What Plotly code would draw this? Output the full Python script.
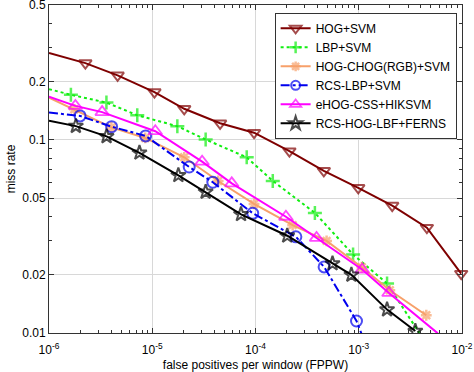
import math
import plotly.graph_objects as go

# ---------------- data ----------------
hog_svm_x = [1.0e-6, 2.25e-6, 4.62e-6, 1.05e-5, 2.04e-5, 4.54e-5, 9.68e-5, 2.13e-4, 4.59e-4, 9.89e-4, 2.11e-3, 4.57e-3, 9.82e-3]
hog_svm_y = [0.282, 0.250, 0.216, 0.177, 0.145, 0.122, 0.109, 0.0874, 0.0692, 0.0565, 0.0457, 0.0351, 0.0203]

lbp_svm_x = [1.0e-6, 1.63e-6, 3.60e-6, 7.16e-6, 1.75e-5, 3.29e-5, 8.22e-5, 1.47e-4, 3.76e-4, 8.81e-4, 1.88e-3, 3.88e-3]
lbp_svm_y = [0.1833, 0.1713, 0.1561, 0.1343, 0.1178, 0.1005, 0.0813, 0.0613, 0.0419, 0.0255, 0.01804, 0.00996]

hog_chog_x = [1.0e-6, 1.76e-6, 4.02e-6, 8.55e-6, 2.04e-5, 4.35e-5, 9.68e-5, 2.29e-4, 4.88e-4, 1.07e-3, 2.00e-3, 4.51e-3]
hog_chog_y = [0.1658, 0.1440, 0.1161, 0.1024, 0.0813, 0.0613, 0.0466, 0.0362, 0.0300, 0.0219, 0.01666, 0.01236]

rcs_lbp_x = [1.0e-6, 2.00e-6, 4.04e-6, 8.63e-6, 2.28e-5, 3.86e-5, 9.40e-5, 2.46e-4, 4.62e-4, 9.51e-4, 1.06e-3]
rcs_lbp_y = [0.1386, 0.1332, 0.1171, 0.1049, 0.0724, 0.0604, 0.0417, 0.0315, 0.0220, 0.01154, 0.00996]

ehog_x = [1.0e-6, 1.80e-6, 3.27e-6, 1.07e-5, 3.04e-5, 5.89e-5, 1.97e-4, 3.90e-4, 1.08e-3, 1.96e-3, 5.83e-3]
ehog_y = [0.1677, 0.1501, 0.1394, 0.1110, 0.0772, 0.0596, 0.0400, 0.0311, 0.02133, 0.01612, 0.00996]

rcs_hog_x = [1.0e-6, 1.82e-6, 3.61e-6, 7.52e-6, 1.79e-5, 3.29e-5, 7.24e-5, 2.03e-4, 5.57e-4, 8.49e-4, 1.88e-3, 3.53e-3]
rcs_hog_y = [0.1259, 0.1179, 0.1043, 0.0858, 0.0656, 0.0538, 0.0412, 0.0319, 0.0229, 0.0200, 0.01322, 0.01024]

series_names = ["HOG+SVM", "LBP+SVM", "HOG-CHOG(RGB)+SVM", "RCS-LBP+SVM", "eHOG-CSS+HIKSVM", "RCS-HOG-LBF+FERNS"]

x_tick_vals = [1e-6, 1e-5, 1e-4, 1e-3, 1e-2]
x_tick_text = ["10<sup>-6</sup>", "10<sup>-5</sup>", "10<sup>-4</sup>", "10<sup>-3</sup>", "10<sup>-2</sup>"]
y_tick_vals = [0.01, 0.02, 0.05, 0.1, 0.2, 0.5]
y_tick_text = ["0.01", "0.02", "0.05", "0.1", "0.2", "0.5"]

# ---------------- figure ----------------
FONT = "Liberation Sans, Arial, sans-serif"
AX = "#333333"

def sizes(n, s, last0=False):
    arr = [s] * n
    arr[0] = 0
    if last0:
        arr[-1] = 0
    return arr

fig = go.Figure()

fig.add_trace(go.Scatter(
    x=hog_svm_x, y=hog_svm_y, name=series_names[0], mode="lines+markers",
    line=dict(color="#7f0000", width=2),
    marker=dict(symbol="triangle-down-open", size=sizes(len(hog_svm_x), 11), color="#7f0000",
                line=dict(width=2, color="#7f0000")),
    cliponaxis=False))

fig.add_trace(go.Scatter(
    x=lbp_svm_x, y=lbp_svm_y, name=series_names[1], mode="lines+markers",
    line=dict(color="#11ee11", width=2, dash="dot"),
    marker=dict(symbol="cross-thin-open", size=sizes(len(lbp_svm_x), 10, last0=True), color="#11ee11",
                line=dict(width=2.5, color="#11ee11"))))

fig.add_trace(go.Scatter(
    x=hog_chog_x, y=hog_chog_y, name=series_names[2], mode="lines+markers",
    line=dict(color="#f7a06a", width=2),
    marker=dict(symbol="asterisk-open", size=sizes(len(hog_chog_x), 9), color="#f7a06a",
                line=dict(width=2.5, color="#f7a06a"))))

fig.add_trace(go.Scatter(
    x=rcs_lbp_x, y=rcs_lbp_y, name=series_names[3], mode="lines+markers",
    line=dict(color="#0000ee", width=2, dash="dashdot"),
    marker=dict(symbol="circle-open", size=sizes(len(rcs_lbp_x), 11, last0=True), color="#0000ee",
                line=dict(width=2, color="#0000ee"))))

fig.add_trace(go.Scatter(
    x=ehog_x, y=ehog_y, name=series_names[4], mode="lines+markers",
    line=dict(color="#ff00ff", width=2),
    marker=dict(symbol="triangle-up-open", size=sizes(len(ehog_x), 12, last0=True), color="#ff00ff",
                line=dict(width=1.8, color="#ff00ff"))))

fig.add_trace(go.Scatter(
    x=rcs_hog_x, y=rcs_hog_y, name=series_names[5], mode="lines+markers",
    line=dict(color="#000000", width=2),
    marker=dict(symbol="star-open", size=sizes(len(rcs_hog_x), 11), color="#000000",
                line=dict(width=2, color="#000000"))))

x_minor = [k * d for d in [1e-6, 1e-5, 1e-4, 1e-3] for k in range(2, 10)]
y_minor = [k * d for d in [0.01, 0.1] for k in range(2, 10) if k * d < 0.5]

axis_common = dict(
    showline=True, linecolor=AX, linewidth=1, mirror="ticks",
    ticks="inside", ticklen=5, tickcolor=AX, tickwidth=1,
    showgrid=True, gridcolor="#d8d8d8", gridwidth=1, zeroline=False,
    tickfont=dict(family=FONT, size=12, color="black"),
    automargin=False, ticklabeloverflow="allow",
)

fig.update_layout(
    width=474, height=372, autosize=False,
    margin=dict(l=49, r=12, t=5, b=39, pad=0),
    paper_bgcolor="white", plot_bgcolor="white",
    font=dict(family=FONT, size=12, color="black"),
    xaxis=dict(
        type="log", autorange=False, range=[-6, -2],
        tickmode="array", tickvals=x_tick_vals, ticktext=x_tick_text,
        minor=dict(tickmode="array", tickvals=x_minor, ticks="inside", ticklen=3, tickcolor=AX, showgrid=False),
        title=dict(text="false positives per window (FPPW)", font=dict(family=FONT, size=12, color="black"), standoff=5),
        ticklabelstandoff=6,
        **axis_common),
    yaxis=dict(
        type="log", autorange=False, range=[-2, math.log10(0.5) + 1e-6],
        tickmode="array", tickvals=y_tick_vals, ticktext=y_tick_text,
        minor=dict(tickmode="array", tickvals=y_minor, ticks="inside", ticklen=3, tickcolor=AX, showgrid=False),
        title=dict(text="miss rate", font=dict(family=FONT, size=12, color="black"), standoff=4),
        **axis_common),
    legend=dict(
        x=0.987, y=0.976, xanchor="right", yanchor="top",
        bgcolor="white", bordercolor=AX, borderwidth=1,
        font=dict(family=FONT, size=12, color="black"),
    ),
)

fig.write_html("out.html", config={"displayModeBar": False},
               post_script="document.body.style.margin='0';document.body.style.overflow='hidden';")
